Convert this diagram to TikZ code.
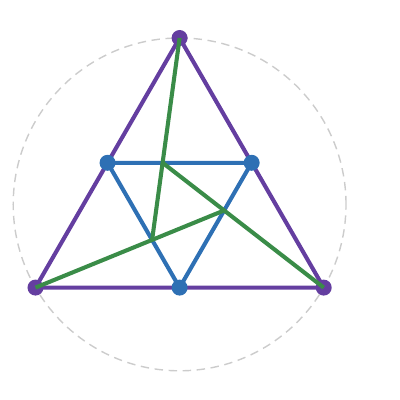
\documentclass[tikz,border=0pt]{standalone}
\usetikzlibrary{calc}
\definecolor{triPurple}{RGB}{100,62,160}
\definecolor{midBlue}{RGB}{46,112,180}
\definecolor{cevGreen}{RGB}{58,140,72}
\begin{document}
\begin{tikzpicture}[
  dot/.style={circle,fill=#1,inner sep=0pt,minimum size=0.4cm},
  edge/.style={line width=2.9pt,#1}
]
\useasboundingbox (0,0) rectangle (10,10);

\coordinate (O) at (4.49,4.89);
\coordinate (A) at ($(O)+(90:4.16)$);
\coordinate (B) at ($(O)+(210:4.16)$);
\coordinate (C) at ($(O)+(330:4.16)$);

% midpoints
\coordinate (Mab) at ($(A)!0.5!(B)$);
\coordinate (Mbc) at ($(B)!0.5!(C)$);
\coordinate (Mca) at ($(C)!0.5!(A)$);

% cevian feet
\coordinate (D) at ($(B)!0.382!(C)$);
\coordinate (E) at ($(C)!0.382!(A)$);
\coordinate (F) at ($(A)!0.382!(B)$);

\coordinate (P) at (intersection of A--D and B--E);
\coordinate (Q) at (intersection of B--E and C--F);
\coordinate (R) at (intersection of C--F and A--D);

\draw[gray!40,line width=1pt,dash pattern=on 6pt off 4pt] (O) circle (4.16);

\draw[edge=triPurple] (A) -- (B) -- (C) -- cycle;
\node[dot=triPurple] (nA) at (A) {};
\node[dot=triPurple] (nB) at (B) {};
\node[dot=triPurple] (nC) at (C) {};

\draw[edge=midBlue] (Mab) -- (Mbc) -- (Mca) -- cycle;
\node[dot=midBlue] (nMab) at (Mab) {};
\node[dot=midBlue] (nMbc) at (Mbc) {};
\node[dot=midBlue] (nMca) at (Mca) {};

\draw[edge=cevGreen] (nA.center) -- (P);
\draw[edge=cevGreen] (nB.center) -- (Q);
\draw[edge=cevGreen] (nC.center) -- (R);

\end{tikzpicture}
\end{document}
